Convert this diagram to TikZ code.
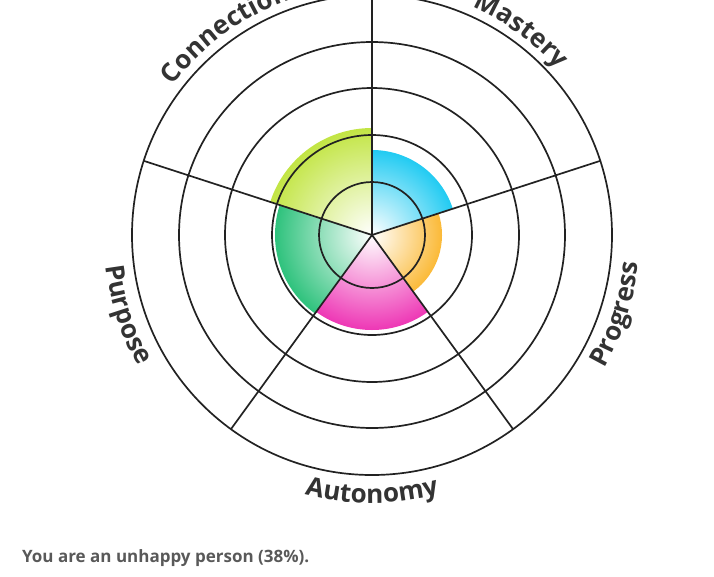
\documentclass[tikz,border=0pt]{standalone}
\usepackage{fontspec}
\setmainfont{Open Sans}
\usetikzlibrary{decorations.text}
\definecolor{ink}{HTML}{222222}
\definecolor{lab}{HTML}{333333}
\definecolor{cLime}{RGB}{185,225,40}
\definecolor{cCyan}{RGB}{0,195,240}
\definecolor{cOrange}{RGB}{250,175,25}
\definecolor{cMag}{RGB}{235,25,170}
\definecolor{cGreen}{RGB}{15,185,105}
\tikzset{
  ring/.style={draw=ink,line width=1.7pt},
  arclabel/.style={decorate,decoration={text along path,text align=center,
    text format delimiters={|}{|},text={|\fontsize{26}{26}\bfseries\color{lab}|#1}}}
}
\newcommand{\mywedge}[4]{% start angle, end angle, radius, colour
  \begin{scope}
    \clip (C) -- ++(#1:#3) arc (#1:#2:#3) -- cycle;
    \shade[inner color=white,outer color=#4] (C) circle (#3*1.15);
  \end{scope}}
\begin{document}
\begin{tikzpicture}[x=1pt,y=1pt]
\useasboundingbox (0,0) rectangle (714,-576);
\coordinate (C) at (372,-235);
\mywedge{90}{162}{107}{cLime}
\mywedge{18}{90}{85}{cCyan}
\mywedge{-54}{18}{70}{cOrange}
\mywedge{-126}{-54}{95}{cMag}
\mywedge{162}{234}{97}{cGreen}
\foreach \r in {53,100,147,193,240} \draw[ring] (C) circle (\r);
\foreach \a in {90,18,-54,-126,162} \draw[ring] (C) -- ++(\a:240);
\path[arclabel={Connection}] (C) ++(154:249) arc (154:98:249);
\path[arclabel={Mastery}] (C) ++(82:249) arc (82:26:249);
\path[arclabel={Progress}] (C) ++(-44:268) arc (-44:8:268);
\path[arclabel={Autonomy}] (C) ++(-114:268) arc (-114:-66:268);
\path[arclabel={Purpose}] (C) ++(172:268) arc (172:224:268);
\node[anchor=base west,inner sep=0,font=\fontsize{17}{17}\bfseries,text=black!65] (msg) at (22,-562) {You are an unhappy person (38\%).};
\end{tikzpicture}
\end{document}
